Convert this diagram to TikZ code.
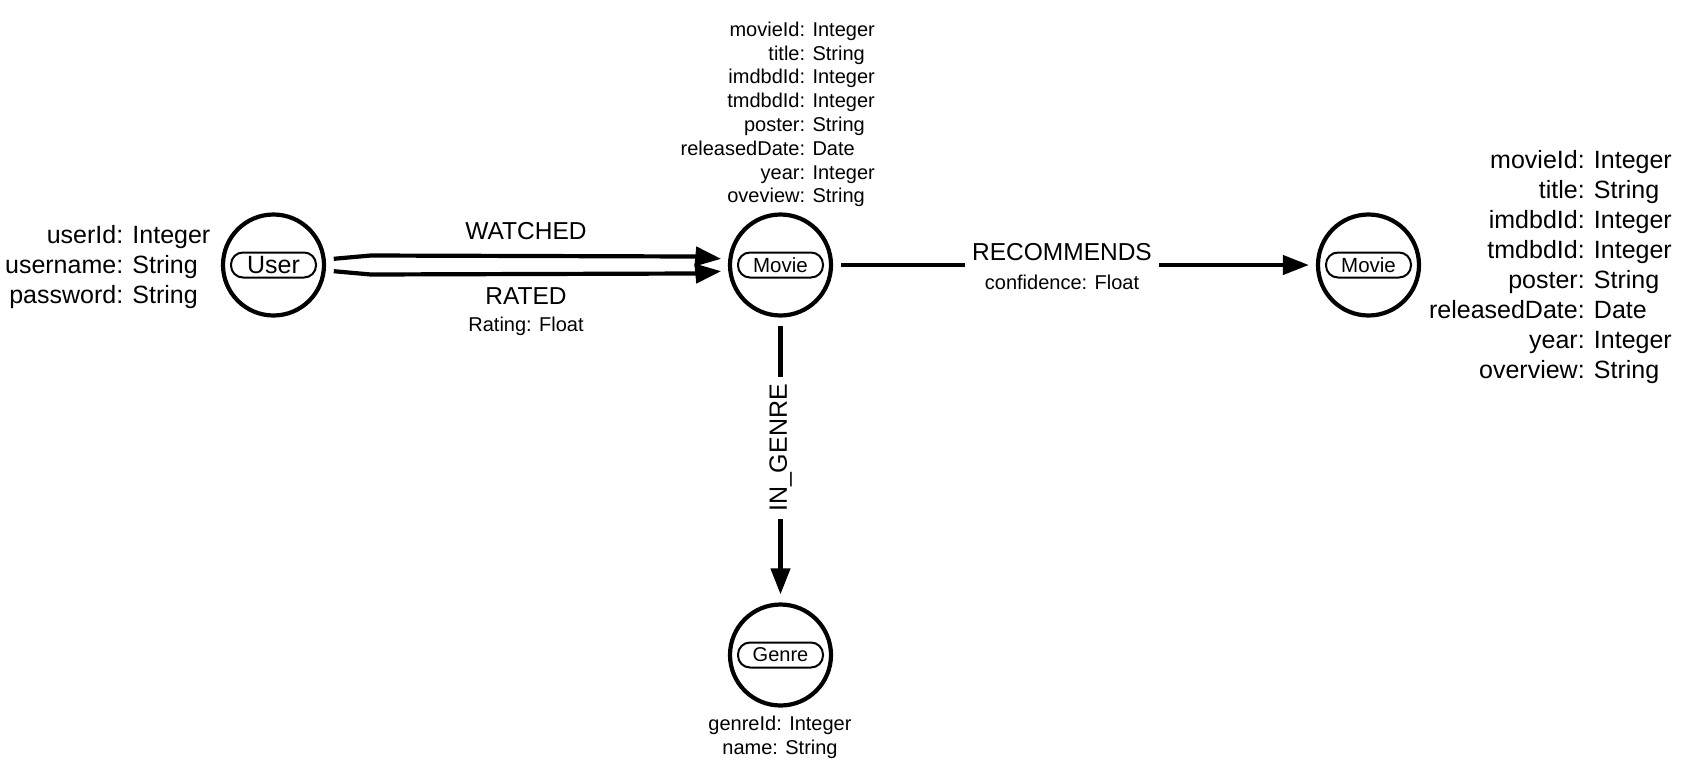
\documentclass[tikz,border=0pt]{standalone}
\usepackage{fontspec}
\setmainfont{Liberation Sans}
\usetikzlibrary{arrows.meta,calc}
\newcommand{\mypad}[1]{\makebox[#1]{}}
\begin{document}
\begin{tikzpicture}[x=1pt,y=-1pt,
  ent/.style={circle,draw,line width=4.2pt,minimum size=101pt,inner sep=0pt},
  pill/.style={draw,line width=2pt,rounded corners=12pt,minimum width=85pt,minimum height=25pt,inner sep=0pt},
  conn/.style={line width=4.2pt},
  headtip/.style={-{Triangle[length=26pt,width=19pt]}},
  props/.style={inner sep=0pt,align=right},
  fbig/.style={font=\fontsize{25}{30}\selectfont},
  fmid/.style={font=\fontsize{24.5}{28}\selectfont},
  fsmall/.style={font=\fontsize{20}{23.8}\selectfont}
]
\fill[white] (0,0) rectangle (1684,764);
% entities
\node[ent] (u) at (273.5,265) {};
\node[pill,fbig] (up) at (u) {User};
\node[ent] (m) at (780.5,265) {};
\node[pill,font=\fontsize{20.5}{24}\selectfont] (mp) at (m) {Movie};
\node[ent] (m2) at (1368.5,265) {};
\node[pill,font=\fontsize{20.5}{24}\selectfont] (m2p) at (m2) {Movie};
\node[ent] (g) at (780.5,655) {};
\node[pill,fsmall] (gp) at (g) {Genre};
% property lists
\node[props,anchor=east,fbig] (ul) at (210.5,267) {userId: Integer\\username: String\mypad{0.5em}\\password: String\mypad{0.5em}};
\node[props,anchor=east,fsmall] (ml) at (875,114.5) {movieId: Integer\\title: String\mypad{0.5em}\\imdbdId: Integer\\tmdbdId: Integer\\poster: String\mypad{0.5em}\\releasedDate: Date\mypad{1em}\\year: Integer\\oveview: String\mypad{0.5em}};
\node[props,anchor=east,fbig] (m2l) at (1672,267.5) {movieId: Integer\\title: String\mypad{0.5em}\\imdbdId: Integer\\tmdbdId: Integer\\poster: String\mypad{0.5em}\\releasedDate: Date\mypad{1em}\\year: Integer\\overview: String\mypad{0.5em}};
\node[inner sep=0pt,align=center,font=\fontsize{20}{23.5}\selectfont] (gl) at (780,737.5) {genreId: Integer\\name: String};
% relationship labels
\node[fmid,inner sep=0pt] (wl) at (526,231) {WATCHED};
\node[fmid,inner sep=0pt] (rl) at (526,296) {RATED};
\node[fsmall,inner sep=0pt] (rfl) at (526,326) {Rating: Float};
\node[fmid,inner xsep=7pt,inner ysep=0pt] (rec) at (1062,252) {RECOMMENDS};
\node[fsmall,inner sep=0pt] (conf) at (1062,282) {confidence: Float};
\node[fbig,rotate=90,inner xsep=7pt,inner ysep=0pt] (ing) at (780.5,448) {IN\_GENRE};
% connectors
\draw[conn,headtip,shorten <=8pt,shorten >=7pt] (u.6) -- ++(45,-4) -- ($(m.174)+(-32,-3)$) -- (m.174);
\draw[conn,headtip,shorten <=8pt,shorten >=7pt] (u.-6) -- ++(45,4) -- ($(m.-174)+(-32,3)$) -- (m.-174);
\draw[conn,shorten <=8pt] (m.east) -- (m.east -| rec.west);
\draw[conn,headtip,shorten >=7pt] (m2.west -| rec.east) -- (m2.west);
\draw[conn,shorten <=8.5pt] (m.south) -- (m.south |- ing.east);
\draw[conn,headtip,shorten >=8pt] (m.south |- ing.west) -- (g.north);
\end{tikzpicture}
\end{document}
